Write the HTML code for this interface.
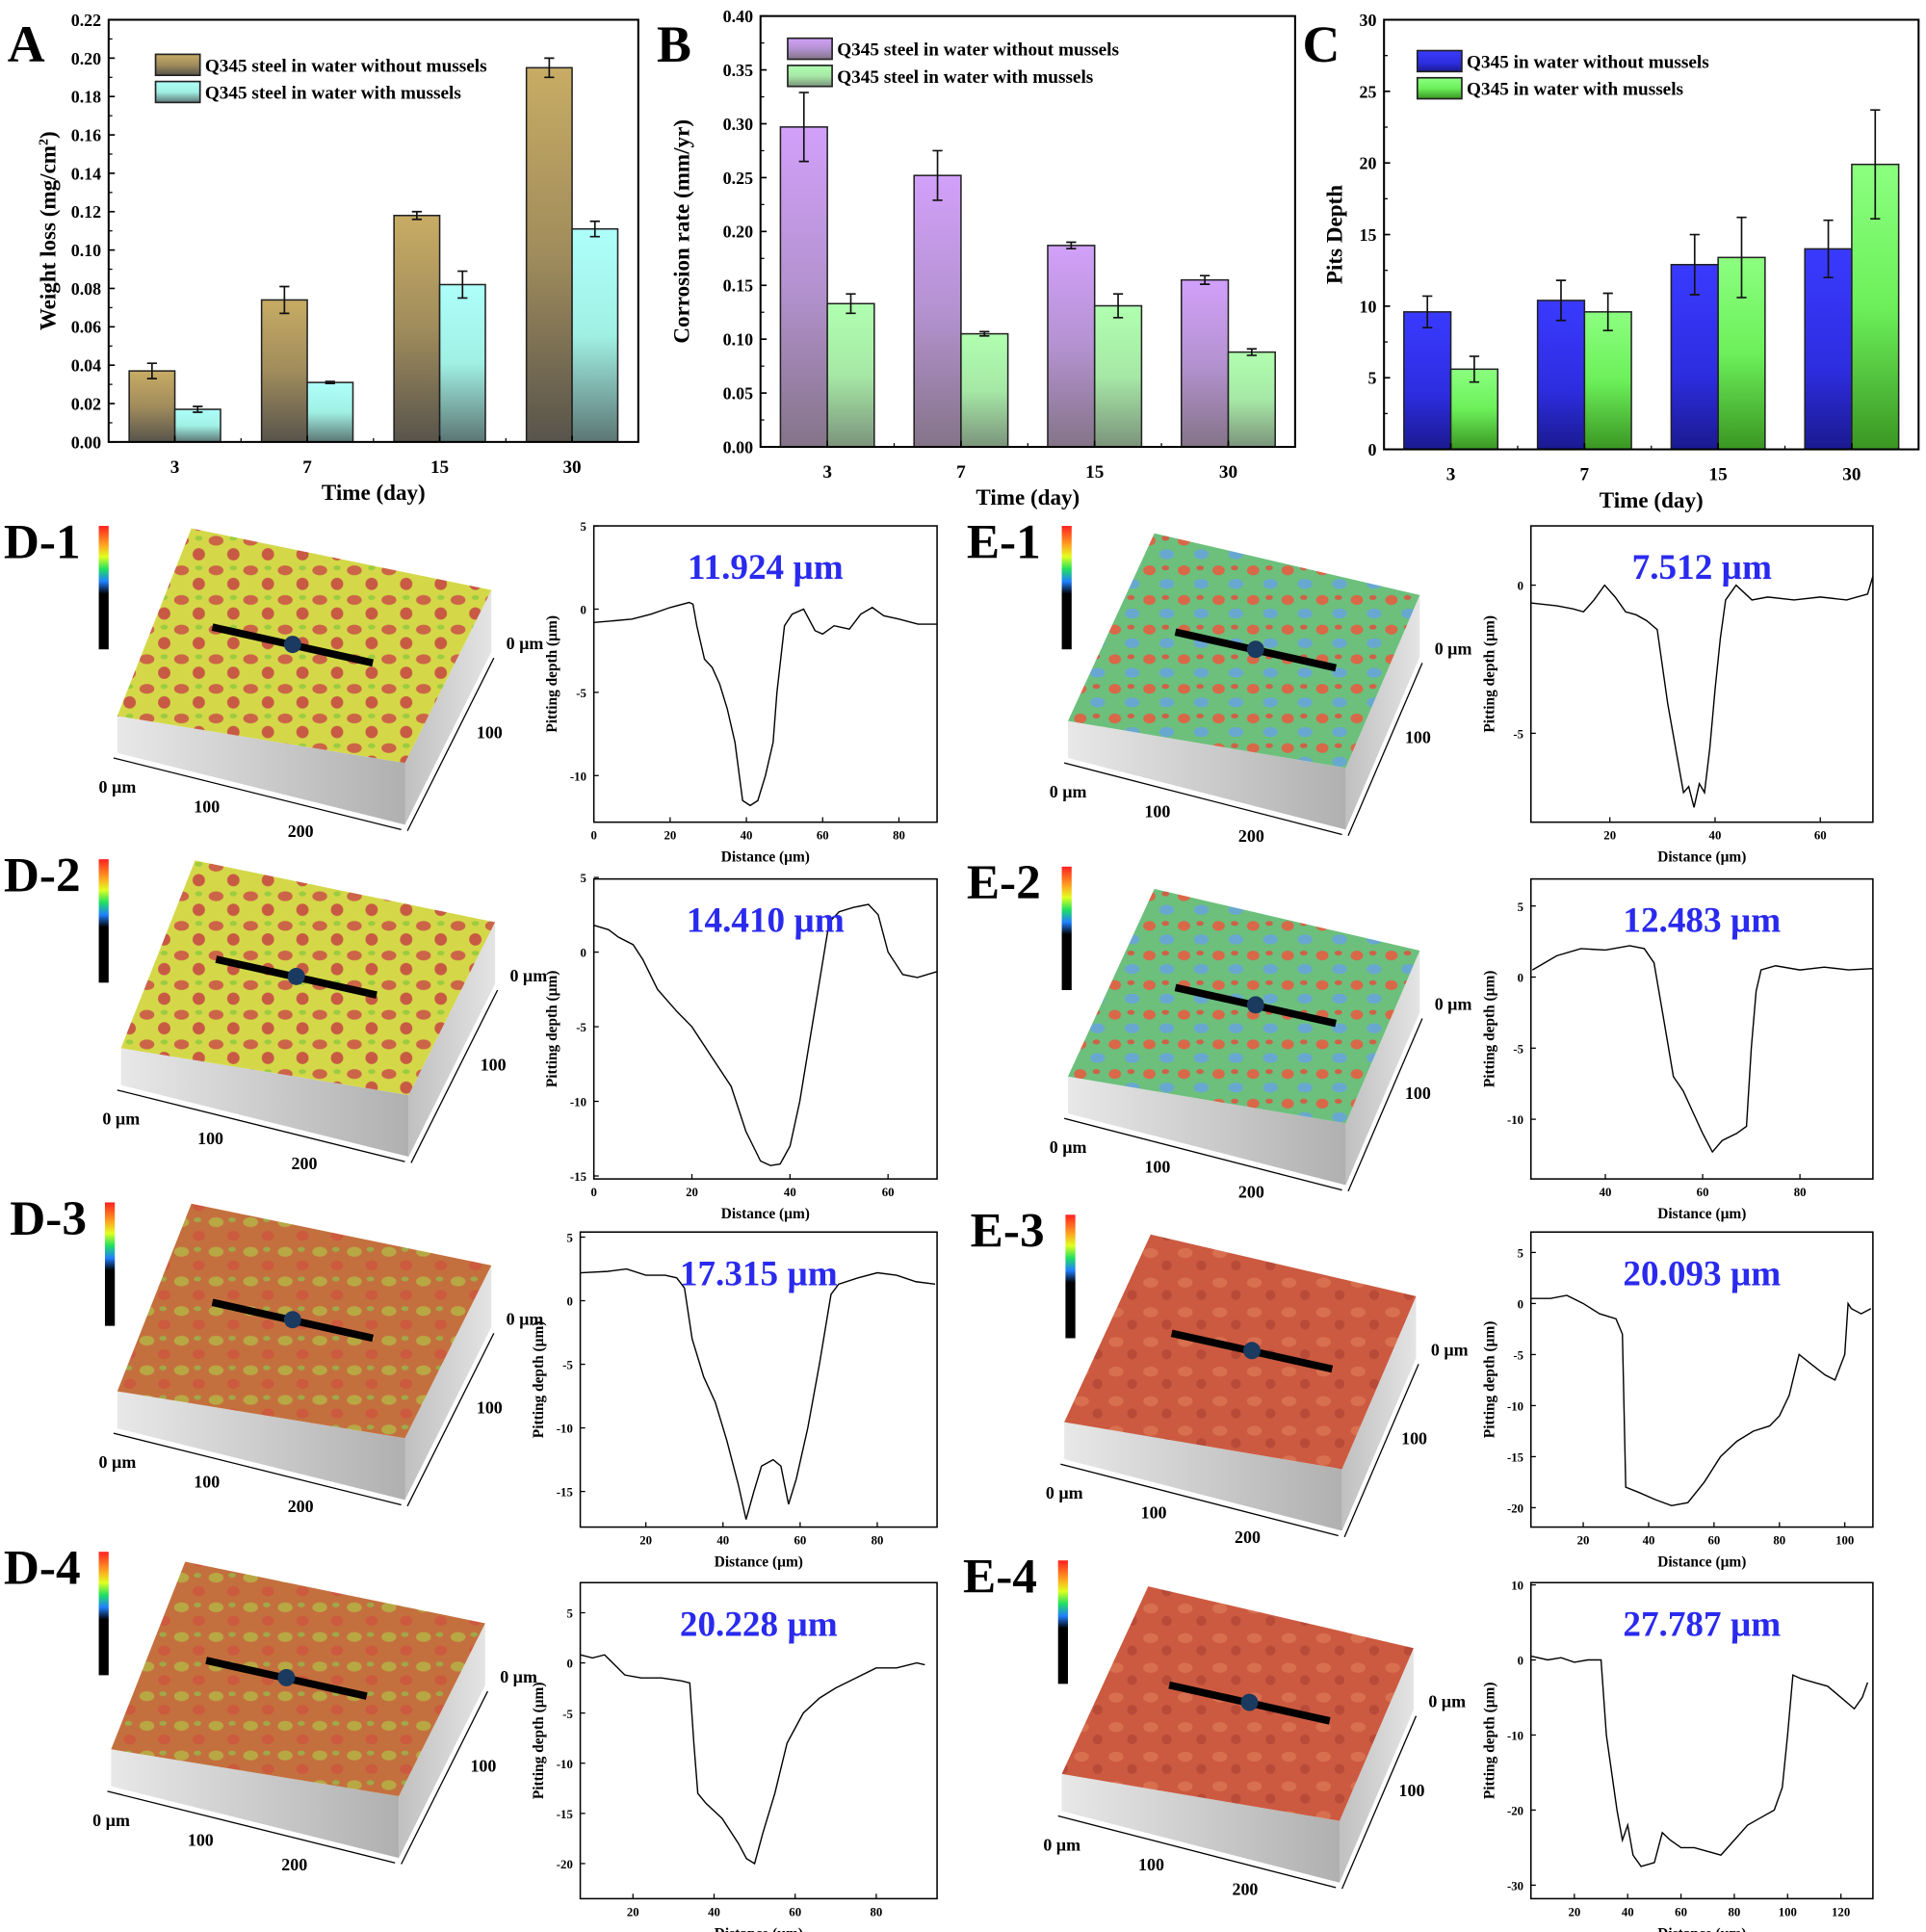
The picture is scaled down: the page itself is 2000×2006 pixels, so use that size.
<!DOCTYPE html>
<html><head><meta charset="utf-8"><style>
html,body{margin:0;padding:0;background:#fff;}
svg{display:block;font-family:"Liberation Serif",serif;}
</style></head><body>
<svg id="fig" xmlns="http://www.w3.org/2000/svg" width="2000" height="2006" viewBox="0 0 1560 1565" preserveAspectRatio="none">
<defs>
<linearGradient id="gBrown" x1="0" y1="0" x2="0" y2="1"><stop offset="0" stop-color="#c8ac64"/><stop offset="0.5" stop-color="#a08c5c"/><stop offset="1" stop-color="#58544c"/></linearGradient>
<linearGradient id="gCyan" x1="0" y1="0" x2="0" y2="1"><stop offset="0" stop-color="#aefffa"/><stop offset="0.5" stop-color="#a0f0e4"/><stop offset="1" stop-color="#5c7674"/></linearGradient>
<linearGradient id="gPurple" x1="0" y1="0" x2="0" y2="1"><stop offset="0" stop-color="#d2a0fa"/><stop offset="0.5" stop-color="#b492d0"/><stop offset="1" stop-color="#847488"/></linearGradient>
<linearGradient id="gLGreen" x1="0" y1="0" x2="0" y2="1"><stop offset="0" stop-color="#b0ffb0"/><stop offset="0.5" stop-color="#a6e8a6"/><stop offset="1" stop-color="#7c947c"/></linearGradient>
<linearGradient id="gBlue" x1="0" y1="0" x2="0" y2="1"><stop offset="0" stop-color="#3a3aff"/><stop offset="0.6" stop-color="#2d2de0"/><stop offset="1" stop-color="#1a1a90"/></linearGradient>
<linearGradient id="gGreen" x1="0" y1="0" x2="0" y2="1"><stop offset="0" stop-color="#8cff80"/><stop offset="0.5" stop-color="#6cf05a"/><stop offset="1" stop-color="#3a9622"/></linearGradient>
<linearGradient id="gCbar" x1="0" y1="0" x2="0" y2="1"><stop offset="0" stop-color="#ff2020"/><stop offset="0.15" stop-color="#ffa020"/><stop offset="0.25" stop-color="#e0ff20"/><stop offset="0.35" stop-color="#20e060"/><stop offset="0.45" stop-color="#2080ff"/><stop offset="0.55" stop-color="#000"/><stop offset="1" stop-color="#000"/></linearGradient>
<linearGradient id="gSideL" x1="0" y1="0" x2="1" y2="0"><stop offset="0" stop-color="#e8e8e8"/><stop offset="1" stop-color="#b0b0b0"/></linearGradient>
<linearGradient id="gSideR" x1="0" y1="0" x2="1" y2="0"><stop offset="0" stop-color="#c0c0c0"/><stop offset="1" stop-color="#e4e4e4"/></linearGradient>
<pattern id="pYel" width="28" height="24" patternUnits="userSpaceOnUse"><rect width="28" height="24" fill="#d4d848"/><ellipse cx="7" cy="6" rx="6" ry="4" fill="#cc6448"/><ellipse cx="21" cy="17" rx="5" ry="5" fill="#c85a44"/><ellipse cx="21" cy="4" rx="3" ry="2" fill="#9ccc40"/></pattern>
<pattern id="pRed" width="28" height="24" patternUnits="userSpaceOnUse"><rect width="28" height="24" fill="#c4703e"/><ellipse cx="7" cy="6" rx="6" ry="4" fill="#b8a844"/><ellipse cx="21" cy="17" rx="5" ry="4" fill="#cc5a3e"/><ellipse cx="20" cy="4" rx="3" ry="2" fill="#a0a848"/></pattern>
<pattern id="pGrn" width="28" height="24" patternUnits="userSpaceOnUse"><rect width="28" height="24" fill="#6cc07c"/><ellipse cx="7" cy="6" rx="5" ry="4" fill="#d86848"/><ellipse cx="21" cy="17" rx="6" ry="4" fill="#68a8d0"/><ellipse cx="20" cy="4" rx="3" ry="2" fill="#d06048"/></pattern>
<pattern id="pRR" width="28" height="24" patternUnits="userSpaceOnUse"><rect width="28" height="24" fill="#cc5a40"/><ellipse cx="8" cy="7" rx="6" ry="4" fill="#d87050"/><ellipse cx="21" cy="17" rx="4" ry="4" fill="#b84a38"/></pattern>
</defs>
<g id="charts"></g>
<g id="surfaces"></g>
<g id="profiles"></g>
</svg>
<script>
// ---------- Bar chart data ----------
const barCategories = ["3","7","15","30"];
const weightLossWithout = [0.037,0.074,0.118,0.195];
const weightLossWithoutErr = [0.004,0.007,0.002,0.005];
const weightLossWith = [0.017,0.031,0.082,0.111];
const weightLossWithErr = [0.0015,0.0005,0.007,0.004];
const weightTicks = ["0.00","0.02","0.04","0.06","0.08","0.10","0.12","0.14","0.16","0.18","0.20","0.22"];
const corrWithout = [0.297,0.252,0.187,0.155];
const corrWithoutErr = [0.032,0.023,0.003,0.004];
const corrWith = [0.133,0.105,0.131,0.088];
const corrWithErr = [0.009,0.002,0.011,0.003];
const corrTicks = ["0.00","0.05","0.10","0.15","0.20","0.25","0.30","0.35","0.40"];
const pitsWithout = [9.6,10.4,12.9,14.0];
const pitsWithoutErr = [1.1,1.4,2.1,2.0];
const pitsWith = [5.6,9.6,13.4,19.9];
const pitsWithErr = [0.9,1.3,2.8,3.8];
const pitsTicks = ["0","5","10","15","20","25","30"];

// ---------- Profile data (distance, depth) ----------
const profD1x=[0,5,10,15,20,25,26,27,29,31,33,35,37,39,41,43,45,47,48,50,52,55,58,60,63,67,70,73,76,80,85,90];
const profD1y=[-0.8,-0.7,-0.6,-0.3,0.1,0.4,0.3,-1,-3,-3.5,-4.5,-6,-8,-11.5,-11.8,-11.5,-10,-8,-5,-1,-0.3,0,-1.3,-1.5,-1,-1.2,-0.3,0.1,-0.4,-0.6,-0.9,-0.9];
const profD2x=[0,3,5,8,10,13,17,20,24,28,31,34,36,38,40,42,44,46,48,50,53,56,58,60,63,66,70];
const profD2y=[1.8,1.5,1,0.5,-0.5,-2.5,-4,-5,-7,-9,-12,-14,-14.3,-14.2,-13,-10,-6,-2,2,2.7,3,3.2,2.5,0,-1.5,-1.7,-1.3];
const profD3x=[3,10,15,20,25,28,30,32,35,38,41,44,46,48,50,53,55,57,59,62,65,68,70,75,80,85,90,95];
const profD3y=[2.2,2.3,2.5,2,2,1.8,1,-3,-6,-8,-11,-14.5,-17.2,-15,-13,-12.5,-13,-16,-14,-10,-5,0.5,1.3,1.8,2.2,2,1.5,1.3];
const profD4x=[7,10,13,15,18,22,27,32,34,35,36,38,42,46,48,50,52,55,58,62,66,70,75,80,85,90,92];
const profD4y=[0.8,0.5,0.8,0,-1.2,-1.5,-1.5,-1.8,-2,-8,-13,-14,-15.5,-18,-19.5,-20,-17,-13,-8,-5,-3.5,-2.5,-1.5,-0.5,-0.5,0,-0.2];
const profE1x=[5,10,13,15,17,19,21,23,25,27,29,31,33,34,35,36,37,38,39,40,41,42,44,47,50,55,60,65,69,70];
const profE1y=[-0.6,-0.7,-0.8,-0.9,-0.5,0,-0.4,-0.9,-1,-1.2,-1.5,-4,-6,-7,-6.8,-7.5,-6.7,-7,-5.5,-3.5,-1.8,-0.5,0,-0.5,-0.4,-0.5,-0.4,-0.5,-0.3,0.3];
const profE2x=[25,30,35,40,45,48,50,52,54,56,58,60,62,64,67,69,70,71,72,75,80,85,90,95];
const profE2y=[0.5,1.5,2,1.9,2.2,2,1,-3,-7,-8,-9.5,-11,-12.3,-11.5,-11,-10.5,-5,-1,0.5,0.8,0.5,0.7,0.5,0.6];
const profE3x=[4,10,15,20,25,30,32,33,37,42,47,52,57,62,67,72,77,80,83,86,90,94,97,100,101,102,105,108];
const profE3y=[0.5,0.5,0.8,0,-1,-1.5,-3,-18,-18.5,-19.2,-19.8,-19.5,-17.5,-15,-13.5,-12.5,-12,-11,-9,-5,-6,-7,-7.5,-5,0,-0.5,-1,-0.5];
const profE4x=[4,10,15,20,25,30,32,34,36,38,40,42,45,50,53,56,60,65,70,75,80,85,90,95,98,100,102,105,110,115,120,125,128,130];
const profE4y=[0.5,0,0.3,-0.3,0,0,-10,-15,-20,-24,-22,-26,-27.5,-27,-23,-24,-25,-25,-25.5,-26,-24,-22,-21,-20,-17,-10,-2,-2.5,-3,-3.5,-5,-6.5,-5,-3];
const profValues=["11.924 µm","14.410 µm","17.315 µm","20.228 µm","7.512 µm","12.483 µm","20.093 µm","27.787 µm"];

const NS="http://www.w3.org/2000/svg";
function mk(parent,tag,attrs,text){const e=document.createElementNS(NS,tag);for(const k in attrs)e.setAttribute(k,attrs[k]);if(text!==undefined)e.textContent=text;parent.appendChild(e);return e;}

function barChart(g,c){
  const {L,R,T,B,ymax}=c;
  const y=v=>B-(v/ymax)*(B-T);
  const step=(R-L)/4, bw=c.bw;
  const xc=i=>L+step*(i+0.5);
  [[c.s1,c.e1,c.f1,-1],[c.s2,c.e2,c.f2,0]].forEach(([s,e,f,off],si)=>{
    s.forEach((v,i)=>{
      const x0=xc(i)+off*bw;
      const r=mk(g,'rect',{x:x0,y:y(v),width:bw,height:B-y(v),fill:'url(#'+f+')',stroke:'#222','stroke-width':1.2});
      
      
      const cx=x0+bw/2;
      const eb=mk(g,'path',{d:`M${cx},${y(v+e[i])}V${y(v-e[i])}M${cx-4},${y(v+e[i])}h8M${cx-4},${y(v-e[i])}h8`,stroke:'#111','stroke-width':1.3,fill:'none'});
      
      
    });
  });
  const fr=mk(g,'rect',{x:L,y:T,width:R-L,height:B-T,fill:'none',stroke:'#000','stroke-width':1.6});
  
  
  c.ticks.forEach((t,i)=>{
    const v=parseFloat(t), yy=y(v);
    mk(g,'line',{x1:L,x2:L+5,y1:yy,y2:yy,stroke:'#000','stroke-width':1.3});
    if(i<c.ticks.length-1){const ym=y(v+(parseFloat(c.ticks[1])-parseFloat(c.ticks[0]))/2);mk(g,'line',{x1:L,x2:L+3,y1:ym,y2:ym,stroke:'#000','stroke-width':1});}
    const tl=mk(g,'text',{x:L-6,y:yy+5,'text-anchor':'end','font-size':14,'font-weight':'bold'},t);
    
    
  });
  barCategories.forEach((cat,i)=>{
    mk(g,'line',{x1:xc(i),x2:xc(i),y1:B,y2:B-5,stroke:'#000','stroke-width':1.3});
    mk(g,'line',{x1:L+step*(i+1),x2:L+step*(i+1),y1:B,y2:B-3,stroke:'#000','stroke-width':1});
    const tl=mk(g,'text',{x:xc(i),y:B+25,'text-anchor':'middle','font-size':15,'font-weight':'bold'},cat);
    
    
  });
  const xt=mk(g,'text',{x:(L+R)/2,y:B+47,'text-anchor':'middle','font-size':18,'font-weight':'bold'},'Time (day)');
  
  
  const yt=mk(g,'text',{x:0,y:0,'text-anchor':'middle','font-size':18,'font-weight':'bold',transform:`translate(${c.ylx},${(T+B)/2}) rotate(-90)`});
  yt.innerHTML=c.ylabel;
  
  
  const pl=mk(g,'text',{x:c.lx,y:50,'font-size':42,'font-weight':'bold'},c.id.toUpperCase());
  
  
  [[c.f1,c.l1],[c.f2,c.l2]].forEach(([f,l],k)=>{
    const sw=mk(g,'rect',{x:c.legX,y:c.legY+k*22,width:36,height:17,fill:'url(#'+f+')',stroke:'#222','stroke-width':1.3});
    
    
    const lt=mk(g,'text',{x:c.legX+40,y:c.legY+k*22+14,'font-size':15,'font-weight':'bold'},l);
    
    
  });
}
const charts=document.getElementById('charts');
barChart(charts,{id:'a',L:88,R:517,T:16,B:358,ymax:0.22,bw:37,s1:weightLossWithout,e1:weightLossWithoutErr,s2:weightLossWith,e2:weightLossWithErr,f1:'gBrown',f2:'gCyan',ticks:weightTicks,ylabel:'Weight loss (mg/cm<tspan baseline-shift="super" font-size="11">2</tspan>)',ylx:45,lx:6,legX:126,legY:44,l1:'Q345 steel in water without mussels',l2:'Q345 steel in water with mussels'});
barChart(charts,{id:'b',L:616,R:1049,T:13,B:362,ymax:0.40,bw:38,s1:corrWithout,e1:corrWithoutErr,s2:corrWith,e2:corrWithErr,f1:'gPurple',f2:'gLGreen',ticks:corrTicks,ylabel:'Corrosion rate (mm/yr)',ylx:558,lx:532,legX:638,legY:31,l1:'Q345 steel in water without mussels',l2:'Q345 steel in water with mussels'});
barChart(charts,{id:'c',L:1121,R:1554,T:16,B:364,ymax:30,bw:38,s1:pitsWithout,e1:pitsWithoutErr,s2:pitsWith,e2:pitsWithErr,f1:'gBlue',f2:'gGreen',ticks:pitsTicks,ylabel:'Pits Depth',ylx:1087,lx:1055,legX:1148,legY:41,l1:'Q345 in water without mussels',l2:'Q345 in water with mussels'});

// ---------- 3D surfaces ----------
const surf=document.getElementById('surfaces');
function surface(label,ax,ay,pat,lblX,lblY,bx,cx,dx){
  const g=mk(surf,'g',{});
  
  
  const A=[ax,ay],Bp=[ax+bx,ay+50],C=[ax+cx,ay+190],D=[ax+dx,ay+152],h=50;
  mk(g,'polygon',{points:`${D[0]},${D[1]} ${C[0]},${C[1]} ${C[0]},${C[1]+h} ${D[0]},${D[1]+h*0.6}`,fill:'url(#gSideL)'});
  mk(g,'polygon',{points:`${C[0]},${C[1]} ${Bp[0]},${Bp[1]} ${Bp[0]},${Bp[1]+h} ${C[0]},${C[1]+h}`,fill:'url(#gSideR)'});
  mk(g,'polygon',{points:`${A[0]},${A[1]} ${Bp[0]},${Bp[1]} ${C[0]},${C[1]} ${D[0]},${D[1]}`,fill:'url(#'+pat+')'});
  const l=mk(g,'line',{x1:ax+17,y1:ay+80,x2:ax+147,y2:ay+109,stroke:'#000','stroke-width':6});
  
  
  mk(g,'circle',{cx:ax+82,cy:ay+94,r:7,fill:'#1a3a60'});
  mk(g,'line',{x1:Bp[0]+2,y1:Bp[1]+h+5,x2:C[0]+2,y2:C[1]+h+5,stroke:'#000','stroke-width':1});
  mk(g,'line',{x1:D[0]-3,y1:D[1]+h*0.6+4,x2:C[0]-3,y2:C[1]+h+4,stroke:'#000','stroke-width':1});
  [['0 µm',Bp[0]+12,Bp[1]+48],['100',Bp[0]-12,Bp[1]+120],['0 µm',D[0]-15,D[1]+62],['100',D[0]+62,D[1]+78],['200',D[0]+138,D[1]+98]].forEach(([t,x,y])=>{
    const tt=mk(g,'text',{x:x,y:y,'font-size':14,'font-weight':'bold'},t);
    
    
  });
  const cb=mk(g,'rect',{x:lblX+77,y:lblY-26,width:8,height:100,fill:'url(#gCbar)'});
  
  
  const pl=mk(g,'text',{x:lblX,y:lblY,'font-size':40,'font-weight':'bold'},label);
  
  
}
surface('D-1',155,428,'pYel',3,452,243,173,-60);
surface('D-2',158,697,'pYel',3,722,243,173,-60);
surface('D-3',155,975,'pRed',8,1000,243,173,-60);
surface('D-4',150,1265,'pRed',3,1283,243,173,-60);
surface('E-1',935,432,'pGrn',783,452,215,155,-70);
surface('E-2',935,720,'pGrn',783,728,215,155,-70);
surface('E-3',932,1000,'pRR',786,1010,215,155,-70);
surface('E-4',930,1285,'pRR',780,1290,215,155,-70);

// ---------- Profiles ----------
const prof=document.getElementById('profiles');
function profile(idx,xs,ys,L,R,T,B,xmin,xmax,ymin,ymax,xt,yt){
  const g=mk(prof,'g',{});
  
  
  const X=v=>L+(v-xmin)/(xmax-xmin)*(R-L), Y=v=>B-(v-ymin)/(ymax-ymin)*(B-T);
  mk(g,'rect',{x:L,y:T,width:R-L,height:B-T,fill:'none',stroke:'#000','stroke-width':1.2});
  const p=mk(g,'path',{d:xs.map((v,i)=>(i?'L':'M')+X(v).toFixed(1)+','+Y(ys[i]).toFixed(1)).join(''),fill:'none',stroke:'#000','stroke-width':1.1});
  
  
  xt.forEach(t=>{mk(g,'line',{x1:X(t),x2:X(t),y1:B,y2:B-4,stroke:'#000'});const tl=mk(g,'text',{x:X(t),y:B+14,'text-anchor':'middle','font-size':10,'font-weight':'bold'},t);});
  yt.forEach(t=>{mk(g,'line',{x1:L,x2:L+4,y1:Y(t),y2:Y(t),stroke:'#000'});const tl=mk(g,'text',{x:L-6,y:Y(t)+4,'text-anchor':'end','font-size':10,'font-weight':'bold'},t);});
  const xa=mk(g,'text',{x:(L+R)/2,y:B+32,'text-anchor':'middle','font-size':12,'font-weight':'bold'},'Distance (µm)');
  
  
  const ya=mk(g,'text',{x:0,y:0,'text-anchor':'middle','font-size':12,'font-weight':'bold',transform:`translate(${L-30},${(T+B)/2}) rotate(-90)`},'Pitting depth (µm)');
  
  
  const vt=mk(g,'text',{x:(L+R)/2,y:T+43,'text-anchor':'middle','font-size':29,'font-weight':'bold',fill:'#2a2aee'},profValues[idx]);
  
  
}
profile(0,profD1x,profD1y,481,759,426,666,0,90,-12.8,5,[0,20,40,60,80],[5,0,-5,-10]);
profile(1,profD2x,profD2y,481,759,712,955,0,70,-15.2,4.9,[0,20,40,60],[5,0,-5,-10,-15]);
profile(2,profD3x,profD3y,470,759,998,1237,3,95.5,-17.8,5.4,[20,40,60,80],[5,0,-5,-10,-15]);
profile(3,profD4x,profD4y,470,759,1282,1538,7,95,-23.5,8,[20,40,60,80],[5,0,-5,-10,-15,-20]);
profile(4,profE1x,profE1y,1240,1517,426,666,5,70,-8,2,[20,40,60],[0,-5]);
profile(5,profE2x,profE2y,1240,1517,712,955,24.7,95,-14.2,6.9,[40,60,80],[5,0,-5,-10]);
profile(6,profE3x,profE3y,1240,1517,998,1237,4,108.6,-21.9,7,[20,40,60,80,100],[5,0,-5,-10,-15,-20]);
profile(7,profE4x,profE4y,1240,1517,1282,1538,3.7,132,-31.8,10.3,[20,40,60,80,100,120],[10,0,-10,-20,-30]);
</script>
</body></html>
